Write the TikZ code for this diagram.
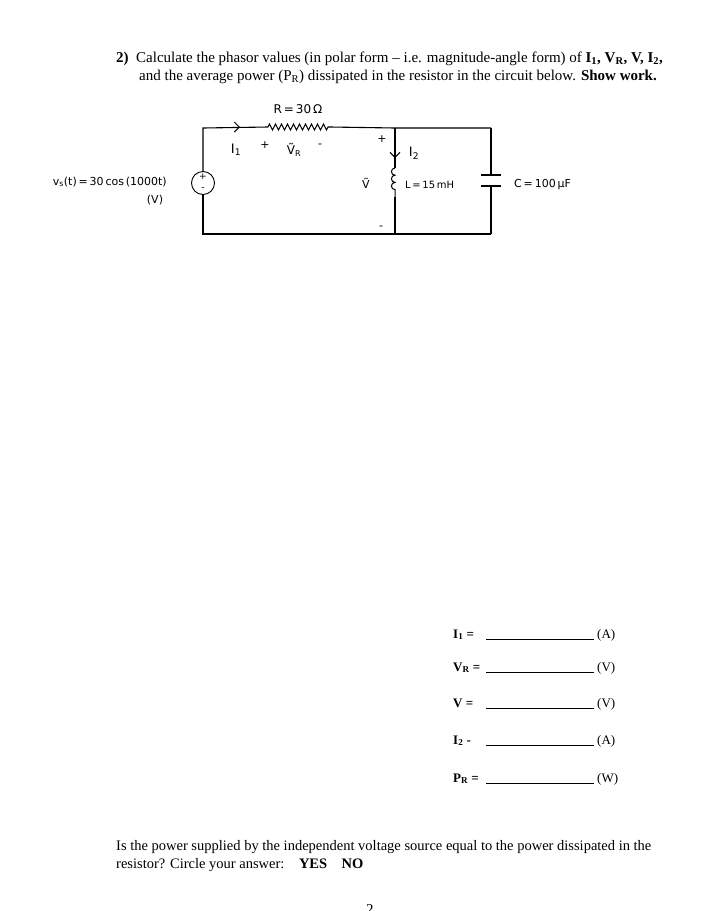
\documentclass[tikz,border=0pt]{standalone}
\usepackage{fontspec}
\setmainfont{Liberation Serif}
\newfontfamily\hand{DejaVu Sans}
\usetikzlibrary{decorations.pathmorphing,arrows.meta}
\begin{document}
\begin{tikzpicture}[x=1pt,y=-1pt,
  wire/.style={line width=1.1pt},
  hw/.style={font=\hand\fontsize{11}{12}\selectfont,inner sep=0pt},
  txt/.style={font=\fontsize{15}{17}\selectfont,inner sep=0pt,anchor=base west},
  btxt/.style={font=\fontsize{14.5}{17}\selectfont,inner sep=0pt,anchor=base west},
  ans/.style={font=\fontsize{13}{15}\selectfont,inner sep=0pt,anchor=base west}]
\useasboundingbox[fill=white] (0,0) rectangle (726,911);
\node[txt] (t1) at (116,62) {\textbf{2)}\enspace Calculate the phasor values (in polar form -- i.e. magnitude-angle form) of \textbf{I\textsubscript{1}, V\textsubscript{R}, V, I\textsubscript{2},}};
\node[txt] (t2) at (139,80) {and the average power (P\textsubscript{R}) dissipated in the resistor in the circuit below. \textbf{Show work.}};
% circuit
\coordinate (tl) at (203,128); \coordinate (bl) at (203,234);
\coordinate (ra) at (268,127); \coordinate (rb) at (330,127);
\coordinate (lt) at (395,128); \coordinate (lb) at (395,234);
\coordinate (ct) at (491,128); \coordinate (cb) at (491,234);
\node[draw,circle,minimum size=23pt,inner sep=0pt,line width=0.9pt] (src) at (203,183) {};
\node[hw,font=\hand\fontsize{9}{9}\selectfont] (sp) at (203,177) {+};
\node[hw,font=\hand\fontsize{9}{9}\selectfont] (sm) at (203,189) {-};
\draw[wire] (src.north) -- (tl) -- (ra);
\draw[wire,decorate,decoration={zigzag,segment length=6pt,amplitude=3pt}] (ra) -- (rb);
\draw[wire] (rb) -- (lt) -- (ct);
\draw[wire] (src.south) -- (bl) -- (lb) -- (cb);
\draw[-{Straight Barb[length=5pt]},line width=1pt] (222,127) -- (240,127);
% inductor
\coordinate (la) at (395,168); \coordinate (lc) at (395,197);
\draw[wire] (lt) -- (la);
\draw[wire] (lc) -- (lb);
\draw[line width=1pt] (la) arc[start angle=-90,end angle=-270,radius=3.6] arc[start angle=-90,end angle=-270,radius=3.6] arc[start angle=-90,end angle=-270,radius=3.6] -- (lc);
\draw[-{Straight Barb[length=5pt]},line width=1pt] (395,140) -- (395,158);
% capacitor
\coordinate (cp1) at (491,175); \coordinate (cp2) at (491,186);
\draw[wire] (ct) -- (cp1); \draw[wire] (cp2) -- (cb);
\draw[line width=1.3pt] (481,175) -- (501,175);
\draw[line width=1.3pt] (481,186) -- (501,186);
% labels
\node[hw,font=\hand\fontsize{12}{12}\selectfont] (rl) at (298,109) {R\,=\,30\,Ω};
\node[hw,font=\hand\fontsize{13}{13}\selectfont] (i1) at (236,150) {I\textsubscript{1}};
\node[hw] (vrp) at (265,145) {+};
\node[hw,font=\hand\fontsize{12}{12}\selectfont] (vr) at (294,150) {\~V\textsubscript{R}};
\node[hw] (vrm) at (320,146) {-};
\node[hw] (vp) at (382,139) {+};
\node[hw,font=\hand\fontsize{13}{13}\selectfont] (i2) at (414,153) {I\textsubscript{2}};
\node[hw,font=\hand\fontsize{11}{11}\selectfont] (vv) at (366,183) {\~V};
\node[hw] (vm) at (381,228) {-};
\node[hw,anchor=west,font=\hand\fontsize{10}{10}\selectfont] (ll) at (405,185) {L\,=\,15\,mH};
\node[hw,anchor=west,font=\hand\fontsize{11}{11}\selectfont] (cl) at (514,185) {C\,=\,100\,μF};
\node[hw,anchor=east,font=\hand\fontsize{11}{11}\selectfont] (vs) at (167,182) {v\textsubscript{s}(t)\,=\,30\,cos\,(1000t)};
\node[hw,font=\hand\fontsize{11}{11}\selectfont] (vu) at (155,200) {(V)};
% answers
\foreach \y/\l/\u in {638/I\textsubscript{1} =/(A), 671/V\textsubscript{R} =/(V), 707/V =/(V), 744/I\textsubscript{2} -/(A), 782/P\textsubscript{R} =/(W)}{
  \node[ans] at (453,\y) {\textbf{\l}};
  \draw[line width=0.5pt] (486,\y+1) -- (594,\y+1);
  \node[ans] at (597,\y) {\u};
}
\node[btxt] (q1) at (116,850) {Is the power supplied by the independent voltage source equal to the power dissipated in the};
\node[btxt] (q2) at (116,868) {resistor? Circle your answer:\quad \textbf{YES}\quad \textbf{NO}};
\node[txt] (pg) at (366,914) {2};
\end{tikzpicture}
\end{document}
